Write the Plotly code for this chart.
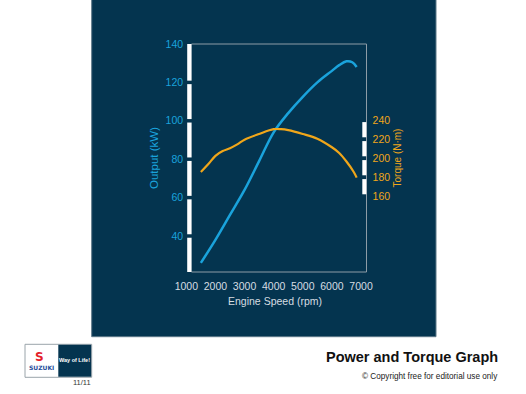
import plotly.graph_objects as go

# ---------------- data ----------------
rpm_power = [1500, 2000, 2500, 3000, 3500, 4000, 4500, 5000, 5500, 6000, 6250, 6500, 6700, 6850]
power_kw = [26, 38, 51, 64, 79, 94, 104, 112.5, 120, 126, 129, 131, 130.5, 128]

rpm_torque = [1500, 1750, 2000, 2250, 2500, 2750, 3000, 3500, 4000, 4250, 4500, 5000, 5500, 6000, 6250, 6500, 6750, 6850]
torque_nm = [186, 194, 203, 208, 211, 215, 220, 226, 231, 231, 230, 226, 221, 212, 206, 197, 186, 180]

x_ticks = [1000, 2000, 3000, 4000, 5000, 6000, 7000]
power_ticks = [40, 60, 80, 100, 120, 140]
torque_ticks = [160, 180, 200, 220, 240]

# ---------------- style ----------------
NAVY = "#04344f"
BLUE = "#1aa3dc"
ORANGE = "#f0a61a"
GREY = "#8d9ca7"
XLBL = "#d6dde2"
FONT = "Liberation Sans, Arial, sans-serif"

Wd, Ht = 526, 394
L, R, T, B = 180, 370, 44, 272
W, H = R - L, B - T


def px(x):
    return (x - L) / W


def py(y):
    return (B - y) / H


fig = go.Figure()
fig.add_trace(go.Scatter(x=rpm_power, y=power_kw, mode="lines", yaxis="y",
                         line=dict(color=BLUE, width=2.5, shape="spline"),
                         showlegend=False, hoverinfo="skip"))
fig.add_trace(go.Scatter(x=rpm_torque, y=torque_nm, mode="lines", yaxis="y2",
                         line=dict(color=ORANGE, width=2.2, shape="spline"),
                         showlegend=False, hoverinfo="skip"))

shapes = []
# dark panel
shapes.append(dict(type="rect", xref="paper", yref="paper", layer="below",
                   x0=px(91.7), x1=px(436), y0=py(336.7), y1=py(-2),
                   fillcolor=NAVY, line=dict(color="#5d7888", width=1)))
# frame lines
shapes.append(dict(type="line", xref="paper", yref="paper", x0=px(191.5), x1=px(366.5),
                   y0=1, y1=1, line=dict(color=GREY, width=1)))
shapes.append(dict(type="line", xref="paper", yref="paper", x0=px(191.5), x1=px(366.5),
                   y0=0, y1=0, line=dict(color=GREY, width=1)))
shapes.append(dict(type="line", xref="paper", yref="paper", x0=px(366.5), x1=px(366.5),
                   y0=0, y1=1, line=dict(color=GREY, width=1)))
# left white bar segmented at ticks
ymin_left = 140 - (B - T) / 1.92
segs = []
lo = ymin_left
for t in power_ticks:
    segs.append((lo, t - 0.9))
    lo = t + 0.9
segs[-1] = (segs[-1][0], 140)
for a, b in segs:
    shapes.append(dict(type="rect", xref="paper", yref="y", x0=px(187.2), x1=px(191.6),
                       y0=a, y1=b, fillcolor="white", line=dict(width=0)))
# right white segments
for t in torque_ticks[1:]:
    shapes.append(dict(type="rect", xref="paper", yref="y2", x0=px(362.3), x1=px(366.3),
                       y0=t - 17.5, y1=t - 1.5, fillcolor="white", line=dict(width=0)))
# logo box
shapes.append(dict(type="rect", xref="paper", yref="paper", x0=px(25), x1=px(91.7),
                   y0=py(377.3), y1=py(344.3), fillcolor="white", line=dict(color="#9aa4aa", width=1)))
shapes.append(dict(type="rect", xref="paper", yref="paper", x0=px(58.3), x1=px(91.2),
                   y0=py(376.8), y1=py(344.8), fillcolor=NAVY, line=dict(width=0)))


def ann(text, x, y, size, color, family=FONT, xanchor="center"):
    return dict(text=text, x=px(x), y=py(y), xref="paper", yref="paper", showarrow=False,
                xanchor=xanchor, yanchor="middle",
                font=dict(family=family, size=size, color=color))


annotations = [
    ann("<b>S</b>", 39, 356.5, 12, "#e3202a", family="DejaVu Sans"),
    ann("<b>SUZUKI</b>", 41.5, 367.5, 6, "#1f4e9c", family="DejaVu Sans"),
    ann("<b>Way of Life!</b>", 75, 360, 5.5, "white"),
    ann("11/11", 82, 382.7, 7.5, "#333333"),
    ann("<b>Power and Torque Graph</b>", 499.5, 357.3, 14.5, "#111111", xanchor="right"),
    ann("© Copyright free for editorial use only", 499.5, 376.5, 8.2, "#222222", xanchor="right"),
]

fig.update_layout(
    width=Wd, height=Ht,
    margin=dict(l=L, r=Wd - R, t=T, b=Ht - B, pad=0, autoexpand=False),
    paper_bgcolor="white",
    plot_bgcolor="rgba(0,0,0,0)",
    showlegend=False,
    xaxis=dict(range=[783.7, 7308], domain=[0, 1], tickvals=x_ticks,
               ticktext=[str(v) for v in x_ticks], tickangle=0, automargin=False,
               showgrid=False, zeroline=False, showline=False,
               ticks="outside", ticklen=4, tickcolor="rgba(0,0,0,0)",
               tickfont=dict(family=FONT, size=10.5, color=XLBL),
               title=dict(text="Engine Speed (rpm)", standoff=7,
                          font=dict(family=FONT, size=10.5, color=XLBL))),
    yaxis=dict(range=[ymin_left, 140], anchor="free", position=px(187.2), tickvals=power_ticks,
               showgrid=False, zeroline=False, showline=False, automargin=False,
               ticks="outside", ticklen=2, tickcolor="rgba(0,0,0,0)",
               tickfont=dict(family=FONT, size=10.5, color=BLUE),
               title=dict(text="Output (kW)", standoff=3,
                          font=dict(family=FONT, size=11.5, color=BLUE))),
    yaxis2=dict(range=[80.7, 320.7], overlaying="y", side="right", anchor="free",
                position=px(366.5), tickvals=torque_ticks, automargin=False,
                showgrid=False, zeroline=False, showline=False,
                ticks="outside", ticklen=3, tickcolor="rgba(0,0,0,0)",
                tickfont=dict(family=FONT, size=10.5, color=ORANGE),
                title=dict(text="Torque (N·m)", standoff=4,
                           font=dict(family=FONT, size=10, color=ORANGE))),
    shapes=shapes,
    annotations=annotations,
)

fig.write_html("out.html", config={"displayModeBar": False},
               post_script="document.body.style.margin='0';document.body.style.padding='0';")
